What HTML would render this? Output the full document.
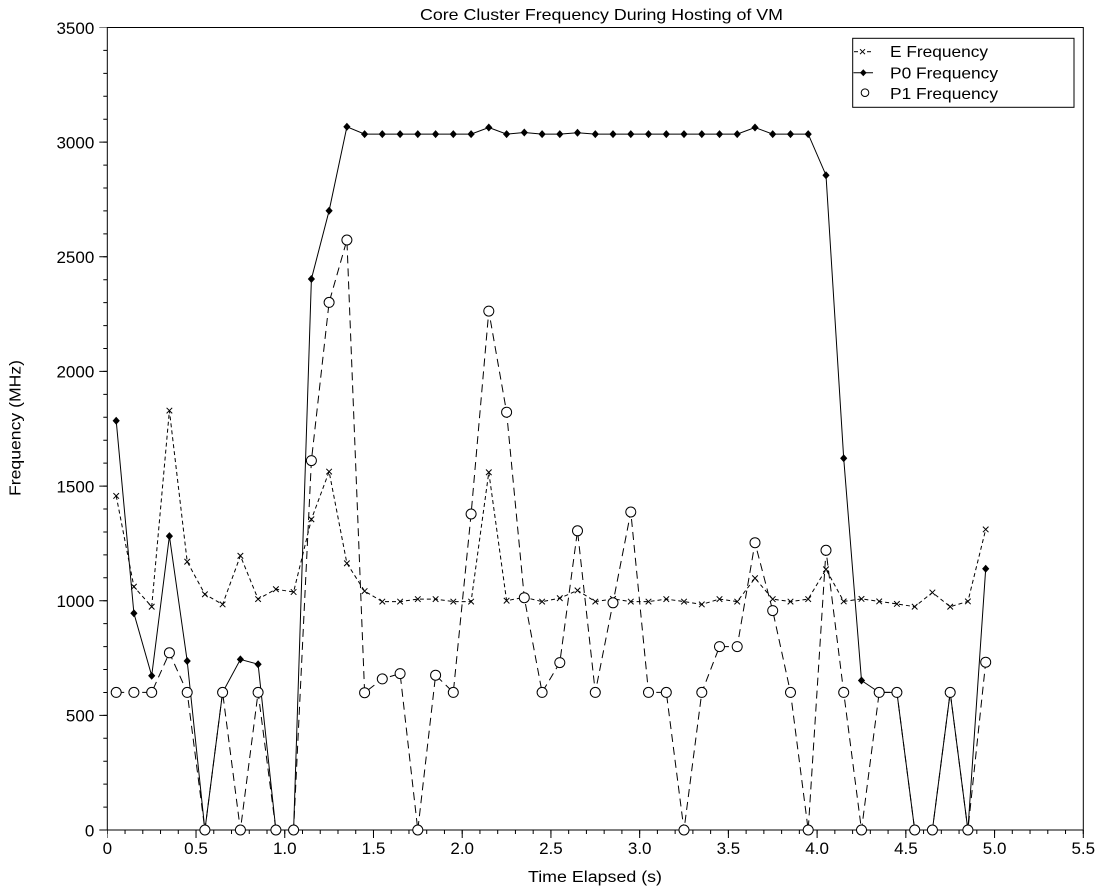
<!DOCTYPE html>
<html>
<head>
<meta charset="utf-8">
<style>
  html,body{margin:0;padding:0;background:#fff;}
  svg{display:block;}
  text{font-family:"Liberation Sans", Arial, Helvetica, sans-serif;fill:#000;}
</style>
</head>
<body>
<svg width="1107" height="892" viewBox="0 0 1107 892" xmlns="http://www.w3.org/2000/svg">
  <defs>
    <marker id="mx" markerUnits="userSpaceOnUse" markerWidth="10" markerHeight="10" refX="0" refY="0" overflow="visible">
      <path d="M-2.8,-2.8 L2.8,2.8 M-2.8,2.8 L2.8,-2.8" stroke="#000" stroke-width="1" fill="none"/>
    </marker>
    <marker id="md" markerUnits="userSpaceOnUse" markerWidth="10" markerHeight="10" refX="0" refY="0" overflow="visible">
      <path d="M0,-4 L3.6,0 L0,4 L-3.6,0 Z" fill="#000" stroke="none"/>
    </marker>
    <marker id="mo" markerUnits="userSpaceOnUse" markerWidth="12" markerHeight="12" refX="0" refY="0" overflow="visible">
      <circle cx="0" cy="0" r="5" fill="#fff" stroke="#000" stroke-width="1"/>
    </marker>
  </defs>

  <rect x="0" y="0" width="1107" height="892" fill="#fff"/>

  <!-- Title -->
  <text x="420" y="20" font-size="16" textLength="363" lengthAdjust="spacingAndGlyphs">Core Cluster Frequency During Hosting of VM</text>

  <!-- Frame -->
  <rect x="107.3" y="27.5" width="976" height="802.5" fill="none" stroke="#000" stroke-width="1"/>

  <!-- Y ticks -->
  <line x1="105.3" y1="27.5" x2="105.3" y2="831" stroke="#000" stroke-width="4" stroke-dasharray="1 21.929" stroke-dashoffset="0.5"/>
  <line x1="103.3" y1="27.5" x2="103.3" y2="831" stroke="#000" stroke-width="8" stroke-dasharray="1 113.643" stroke-dashoffset="0.5"/>
  <!-- X ticks -->
  <line x1="107.3" y1="832" x2="1084.3" y2="832" stroke="#000" stroke-width="4" stroke-dasharray="1 16.745" stroke-dashoffset="0.5"/>
  <line x1="107.3" y1="834" x2="1084.3" y2="834" stroke="#000" stroke-width="8" stroke-dasharray="1 87.727" stroke-dashoffset="0.5"/>

  <!-- Y tick labels -->
  <g font-size="17" text-anchor="end">
    <text x="94.3" y="836.3">0</text>
    <text x="94.3" y="721.7">500</text>
    <text x="94.3" y="607.0">1000</text>
    <text x="94.3" y="492.4">1500</text>
    <text x="94.3" y="377.7">2000</text>
    <text x="94.3" y="263.1">2500</text>
    <text x="94.3" y="148.4">3000</text>
    <text x="94.3" y="33.8">3500</text>
  </g>

  <!-- X tick labels -->
  <g font-size="17" text-anchor="middle">
    <text x="107.3" y="854">0</text>
    <text x="196.0" y="854">0.5</text>
    <text x="284.8" y="854">1.0</text>
    <text x="373.5" y="854">1.5</text>
    <text x="462.2" y="854">2.0</text>
    <text x="550.9" y="854">2.5</text>
    <text x="639.7" y="854">3.0</text>
    <text x="728.4" y="854">3.5</text>
    <text x="817.1" y="854">4.0</text>
    <text x="905.9" y="854">4.5</text>
    <text x="994.6" y="854">5.0</text>
    <text x="1083.3" y="854">5.5</text>
  </g>

  <!-- Axis labels -->
  <text x="595" y="882" font-size="15.5" text-anchor="middle" textLength="134" lengthAdjust="spacingAndGlyphs">Time Elapsed (s)</text>
  <text transform="translate(20.5,428) rotate(-90)" font-size="15.5" text-anchor="middle" textLength="136" lengthAdjust="spacingAndGlyphs">Frequency (MHz)</text>

  <!-- E Frequency -->
  <polyline fill="none" stroke="#000" stroke-width="1" stroke-dasharray="4 3"
    marker-start="url(#mx)" marker-mid="url(#mx)" marker-end="url(#mx)"
    points="116.2,495.9 133.9,586.7 151.7,606.7 169.4,410.6 187.2,561.7 204.9,594.3 222.6,604.4 240.4,555.8 258.1,599.1 275.9,589.2 293.6,592.0 311.4,519.3 329.1,471.6 346.9,563.3 364.6,591.1 382.3,601.6 400.1,601.6 417.8,599.1 435.6,599.1 453.3,601.6 471.1,601.6 488.8,472.3 506.6,600.7 524.3,597.3 542.1,601.6 559.8,598.2 577.5,590.4 595.3,601.6 613.0,598.9 630.8,601.6 648.5,601.6 666.3,599.1 684.0,601.6 701.8,604.4 719.5,599.1 737.2,601.6 755.0,578.2 772.7,599.1 790.5,601.6 808.2,599.1 826.0,569.3 843.7,601.4 861.5,598.9 879.2,601.4 896.9,603.9 914.7,606.7 932.4,592.5 950.2,606.7 967.9,601.4 985.7,529.4"/>

  <!-- P0 Frequency -->
  <polyline fill="none" stroke="#000" stroke-width="1"
    marker-start="url(#md)" marker-mid="url(#md)" marker-end="url(#md)"
    points="116.2,420.7 133.9,613.3 151.7,675.7 169.4,536.1 187.2,661.0 204.9,830 222.6,692.4 240.4,659.4 258.1,664.2 275.9,830 293.6,830 311.4,279.0 329.1,210.7 346.9,126.8 364.6,134.1 382.3,134.1 400.1,134.1 417.8,134.1 435.6,134.1 453.3,134.1 471.1,134.1 488.8,127.5 506.6,134.1 524.3,132.5 542.1,134.1 559.8,134.1 577.5,132.7 595.3,134.1 613.0,134.1 630.8,134.1 648.5,134.1 666.3,134.1 684.0,134.1 701.8,134.1 719.5,134.1 737.2,134.1 755.0,127.5 772.7,134.1 790.5,134.1 808.2,134.1 826.0,175.2 843.7,458.3 861.5,680.5 879.2,692.4 896.9,692.4 914.7,830 932.4,830 950.2,692.4 967.9,830 985.7,568.8"/>

  <!-- P1 Frequency -->
  <polyline fill="none" stroke="#000" stroke-width="1" stroke-dasharray="8 5"
    marker-start="url(#mo)" marker-mid="url(#mo)" marker-end="url(#mo)"
    points="116.2,692.4 133.9,692.4 151.7,692.4 169.4,652.8 187.2,692.4 204.9,830 222.6,692.4 240.4,830 258.1,692.4 275.9,830 293.6,830 311.4,460.6 329.1,302.4 346.9,240.0 364.6,692.7 382.3,678.9 400.1,673.6 417.8,830 435.6,675.2 453.3,692.4 471.1,514.0 488.8,311.1 506.6,412.2 524.3,597.7 542.1,692.4 559.8,662.6 577.5,530.8 595.3,692.4 613.0,602.8 630.8,512.0 648.5,692.4 666.3,692.4 684.0,830 701.8,692.4 719.5,646.6 737.2,646.6 755.0,542.7 772.7,610.6 790.5,692.4 808.2,830 826.0,550.3 843.7,692.4 861.5,830 879.2,692.4 896.9,692.4 914.7,830 932.4,830 950.2,692.4 967.9,830 985.7,662.2"/>

  <!-- Legend -->
  <rect x="852.7" y="38.3" width="221.3" height="69" fill="#fff" stroke="#000" stroke-width="1"/>
  <line x1="854" y1="51.7" x2="858" y2="51.7" stroke="#000" stroke-width="1"/>
  <line x1="867" y1="51.7" x2="871" y2="51.7" stroke="#000" stroke-width="1"/>
  <path d="M860,49.2 L865,54.2 M860,54.2 L865,49.2" stroke="#000" stroke-width="1" fill="none"/>
  <line x1="853.5" y1="72.7" x2="873" y2="72.7" stroke="#000" stroke-width="1"/>
  <path d="M863.3,69.2 L866.6,72.7 L863.3,76.2 L860,72.7 Z" fill="#000"/>
  <circle cx="865" cy="92.7" r="3.8" fill="#fff" stroke="#000" stroke-width="1"/>
  <g font-size="16">
    <text x="890" y="57" textLength="98" lengthAdjust="spacingAndGlyphs">E Frequency</text>
    <text x="890" y="78.3" textLength="108" lengthAdjust="spacingAndGlyphs">P0 Frequency</text>
    <text x="890" y="99" textLength="108" lengthAdjust="spacingAndGlyphs">P1 Frequency</text>
  </g>
</svg>
</body>
</html>
